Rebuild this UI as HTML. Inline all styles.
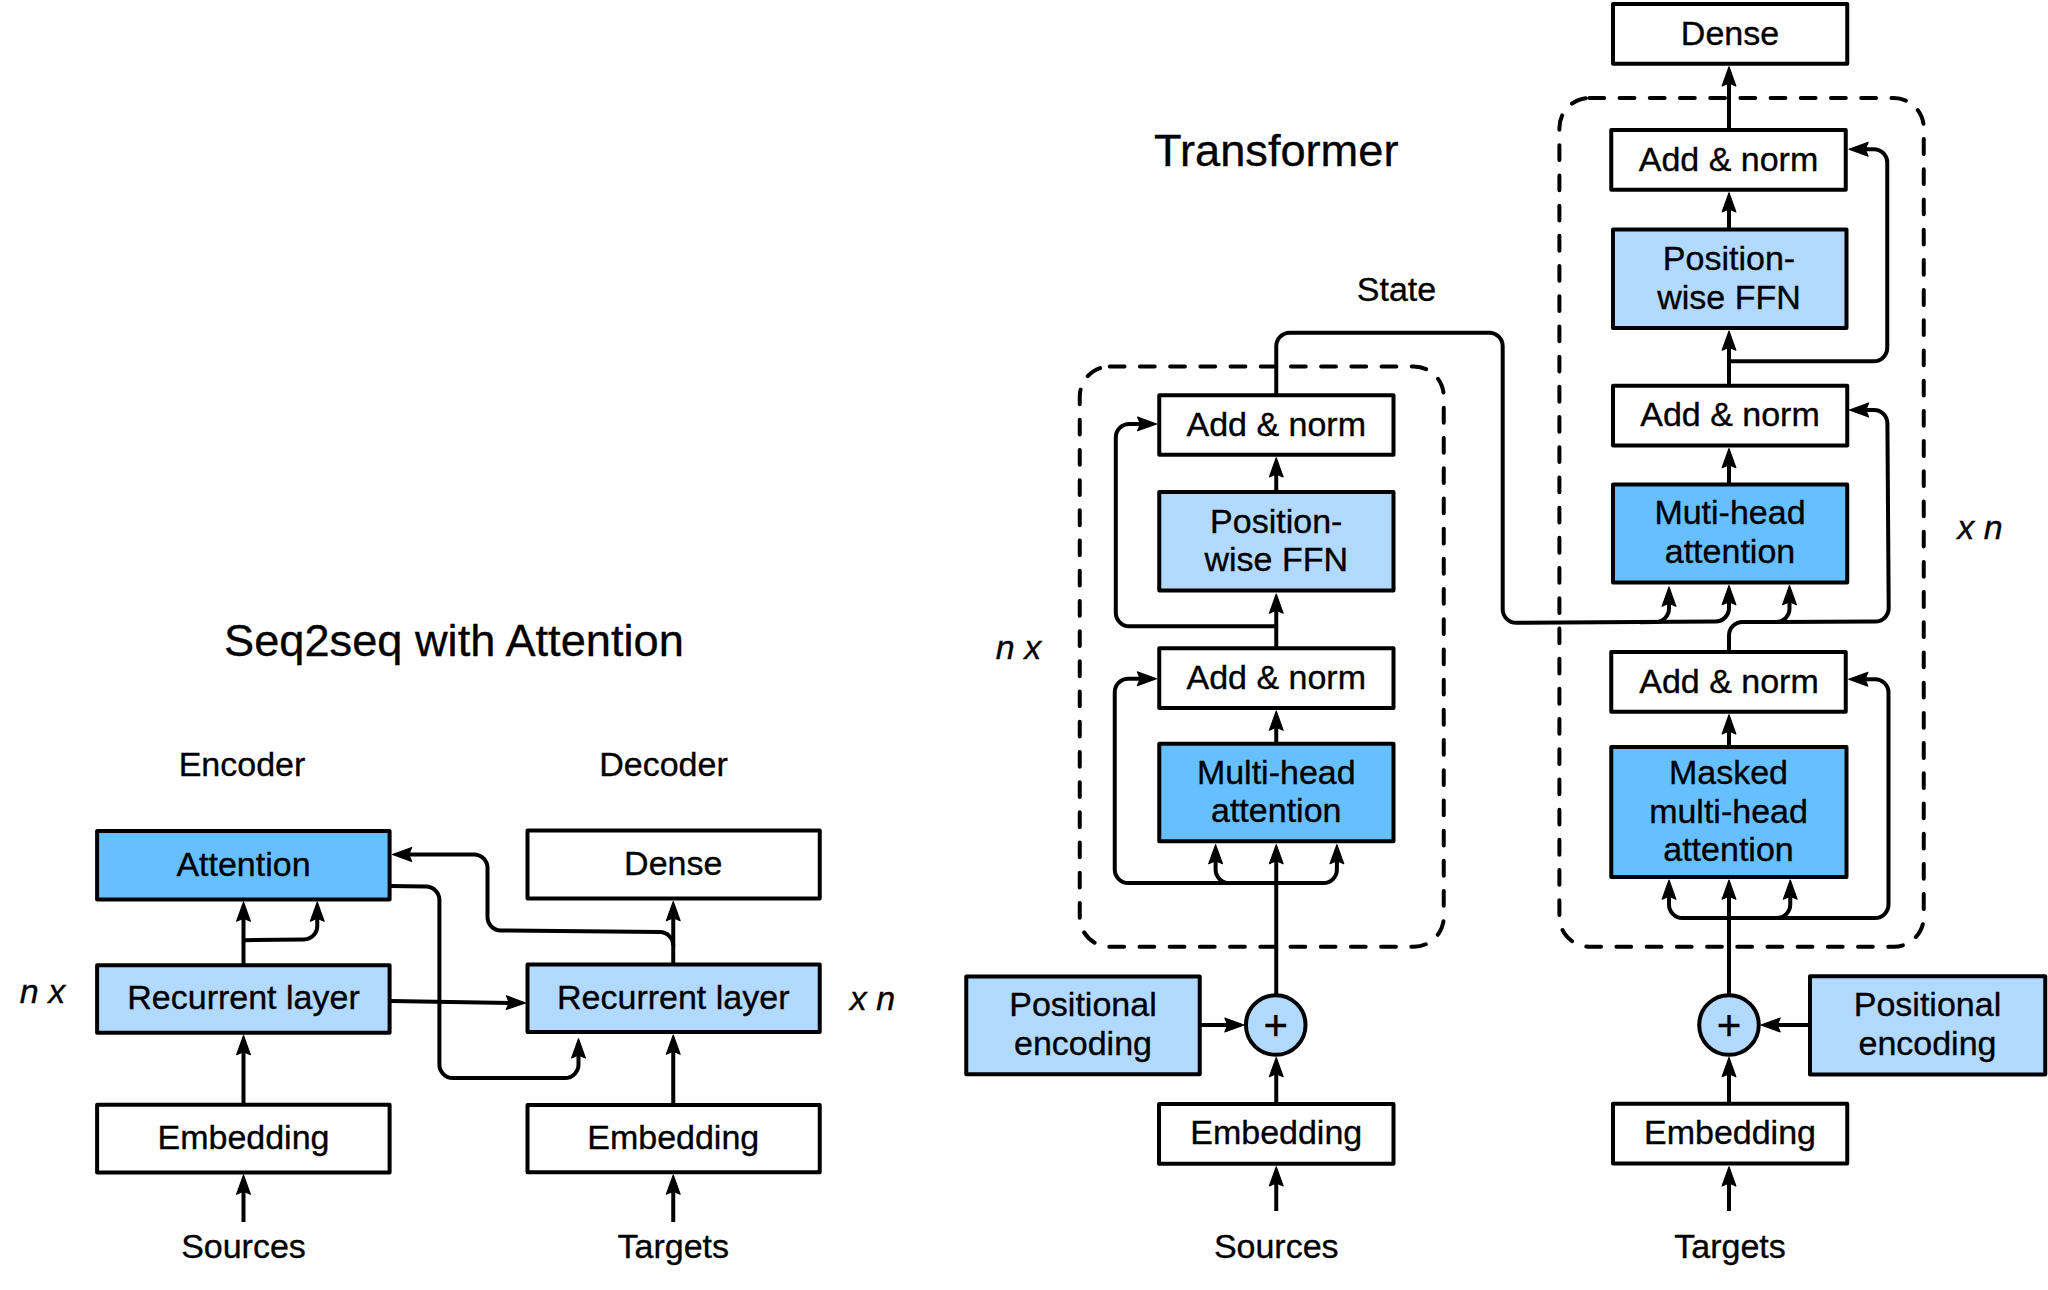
<!DOCTYPE html>
<html lang="en">
<head>
<meta charset="utf-8">
<title>Seq2seq with Attention vs Transformer</title>
<style>
html,body{margin:0;padding:0;background:#fff;}
body{width:2048px;height:1290px;overflow:hidden;}
svg{display:block;}
svg text{font-family:"Liberation Sans",sans-serif;fill:#000;stroke:#000;stroke-width:0.35px;}
</style>
</head>
<body>
<svg width="2048" height="1290" viewBox="0 0 2048 1290">
<rect x="0" y="0" width="2048" height="1290" fill="#fff"/>
<text x="453.90" y="656.00" font-size="45.2" text-anchor="middle">Seq2seq with Attention</text>
<text x="242.00" y="776.25" font-size="34" text-anchor="middle">Encoder</text>
<text x="663.50" y="776.25" font-size="34" text-anchor="middle">Decoder</text>
<path d="M243.5,1222 L243.5,1185" fill="none" stroke="#000" stroke-width="4.0" stroke-linecap="butt" stroke-linejoin="round"/>
<path transform="translate(243.50,1175.00) rotate(-90)" d="M0,0 L-19.2,-6.9 L-16.2,0 L-19.2,6.9 Z" fill="#000" stroke="#000" stroke-width="1.1" stroke-linejoin="round"/>
<path d="M243.5,1104 L243.5,1045.5" fill="none" stroke="#000" stroke-width="4.0" stroke-linecap="butt" stroke-linejoin="round"/>
<path transform="translate(243.50,1035.50) rotate(-90)" d="M0,0 L-19.2,-6.9 L-16.2,0 L-19.2,6.9 Z" fill="#000" stroke="#000" stroke-width="1.1" stroke-linejoin="round"/>
<path d="M243.5,965 L243.5,912" fill="none" stroke="#000" stroke-width="4.0" stroke-linecap="butt" stroke-linejoin="round"/>
<path transform="translate(243.50,902.00) rotate(-90)" d="M0,0 L-19.2,-6.9 L-16.2,0 L-19.2,6.9 Z" fill="#000" stroke="#000" stroke-width="1.1" stroke-linejoin="round"/>
<path d="M243.50,940.20 L303.91,939.46 A13.50,13.50 0 0 0 317.25,925.96 L317.25,912.00" fill="none" stroke="#000" stroke-width="4.0" stroke-linecap="butt" stroke-linejoin="round"/>
<path transform="translate(317.25,902.00) rotate(-90)" d="M0,0 L-19.2,-6.9 L-16.2,0 L-19.2,6.9 Z" fill="#000" stroke="#000" stroke-width="1.1" stroke-linejoin="round"/>
<path d="M673.25,1222 L673.25,1185" fill="none" stroke="#000" stroke-width="4.0" stroke-linecap="butt" stroke-linejoin="round"/>
<path transform="translate(673.25,1175.00) rotate(-90)" d="M0,0 L-19.2,-6.9 L-16.2,0 L-19.2,6.9 Z" fill="#000" stroke="#000" stroke-width="1.1" stroke-linejoin="round"/>
<path d="M673.25,1104 L673.25,1045" fill="none" stroke="#000" stroke-width="4.0" stroke-linecap="butt" stroke-linejoin="round"/>
<path transform="translate(673.25,1035.00) rotate(-90)" d="M0,0 L-19.2,-6.9 L-16.2,0 L-19.2,6.9 Z" fill="#000" stroke="#000" stroke-width="1.1" stroke-linejoin="round"/>
<path d="M673.25,964 L673.25,911.5" fill="none" stroke="#000" stroke-width="4.0" stroke-linecap="butt" stroke-linejoin="round"/>
<path transform="translate(673.25,901.50) rotate(-90)" d="M0,0 L-19.2,-6.9 L-16.2,0 L-19.2,6.9 Z" fill="#000" stroke="#000" stroke-width="1.1" stroke-linejoin="round"/>
<path d="M391,1001.1 L515,1003" fill="none" stroke="#000" stroke-width="4.0" stroke-linecap="butt" stroke-linejoin="round"/>
<path transform="translate(525.50,1003.00) rotate(1)" d="M0,0 L-19.2,-6.9 L-16.2,0 L-19.2,6.9 Z" fill="#000" stroke="#000" stroke-width="1.1" stroke-linejoin="round"/>
<path d="M390.00,886.10 L426.06,886.54 A13.50,13.50 0 0 1 439.40,900.04 L439.40,1064.50 A13.50,13.50 0 0 0 452.90,1078.00 L565.00,1078.00 A13.50,13.50 0 0 0 578.50,1064.50 L578.50,1049.00" fill="none" stroke="#000" stroke-width="4.0" stroke-linecap="butt" stroke-linejoin="round"/>
<path transform="translate(578.50,1038.75) rotate(-90)" d="M0,0 L-19.2,-6.9 L-16.2,0 L-19.2,6.9 Z" fill="#000" stroke="#000" stroke-width="1.1" stroke-linejoin="round"/>
<path d="M673.25,945.82 L673.25,945.57 A13.50,13.50 0 0 0 659.88,932.07 L500.87,930.53 A13.50,13.50 0 0 1 487.50,917.03 L487.50,868.00 A13.50,13.50 0 0 0 474.00,854.50 L402.00,854.50" fill="none" stroke="#000" stroke-width="4.0" stroke-linecap="butt" stroke-linejoin="round"/>
<path transform="translate(392.50,854.50) rotate(180)" d="M0,0 L-19.2,-6.9 L-16.2,0 L-19.2,6.9 Z" fill="#000" stroke="#000" stroke-width="1.1" stroke-linejoin="round"/>
<rect x="97.10" y="831.10" width="292.50" height="68.40" fill="#66BFFF" stroke="#000" stroke-width="4.0" stroke-linejoin="round"/>
<rect x="97.10" y="965.30" width="292.50" height="67.40" fill="#B2D9FF" stroke="#000" stroke-width="4.0" stroke-linejoin="round"/>
<rect x="97.10" y="1104.80" width="292.50" height="67.60" fill="#fff" stroke="#000" stroke-width="4.0" stroke-linejoin="round"/>
<rect x="527.50" y="830.50" width="292.25" height="68.00" fill="#fff" stroke="#000" stroke-width="4.0" stroke-linejoin="round"/>
<rect x="527.50" y="964.50" width="292.25" height="67.50" fill="#B2D9FF" stroke="#000" stroke-width="4.0" stroke-linejoin="round"/>
<rect x="527.50" y="1105.00" width="292.25" height="67.25" fill="#fff" stroke="#000" stroke-width="4.0" stroke-linejoin="round"/>
<text x="243.50" y="875.75" font-size="34" text-anchor="middle">Attention</text>
<text x="243.50" y="1009.25" font-size="34" text-anchor="middle">Recurrent layer</text>
<text x="243.50" y="1149.25" font-size="34" text-anchor="middle">Embedding</text>
<text x="243.50" y="1258.00" font-size="34" text-anchor="middle">Sources</text>
<text x="673.25" y="875.00" font-size="34" text-anchor="middle">Dense</text>
<text x="673.25" y="1008.75" font-size="34" text-anchor="middle">Recurrent layer</text>
<text x="673.25" y="1149.25" font-size="34" text-anchor="middle">Embedding</text>
<text x="673.25" y="1258.00" font-size="34" text-anchor="middle">Targets</text>
<text x="42.50" y="1003.00" font-size="34" text-anchor="middle" font-style="italic">n x</text>
<text x="872.50" y="1009.75" font-size="34" text-anchor="middle" font-style="italic">x n</text>
<text x="1276.25" y="166.25" font-size="45.2" text-anchor="middle">Transformer</text>
<text x="1396.50" y="301.25" font-size="34" text-anchor="middle">State</text>
<text x="1018.50" y="658.75" font-size="34" text-anchor="middle" font-style="italic">n x</text>
<text x="1980.00" y="538.75" font-size="34" text-anchor="middle" font-style="italic">x n</text>
<rect x="1079.75" y="366.5" width="364.0" height="580.25" rx="30" ry="30" fill="none" stroke="#000" stroke-width="4.0" stroke-dasharray="14.8 15.4" stroke-linecap="round"/>
<rect x="1559.4" y="98.1" width="364.3499999999999" height="848.65" rx="30" ry="30" fill="none" stroke="#000" stroke-width="4.0" stroke-dasharray="14.8 15.4" stroke-linecap="round"/>
<path d="M1276.25,1211 L1276.25,1176.75" fill="none" stroke="#000" stroke-width="4.0" stroke-linecap="butt" stroke-linejoin="round"/>
<path transform="translate(1276.25,1166.75) rotate(-90)" d="M0,0 L-19.2,-6.9 L-16.2,0 L-19.2,6.9 Z" fill="#000" stroke="#000" stroke-width="1.1" stroke-linejoin="round"/>
<path d="M1276.25,1103 L1276.25,1067.5" fill="none" stroke="#000" stroke-width="4.0" stroke-linecap="butt" stroke-linejoin="round"/>
<path transform="translate(1276.25,1057.50) rotate(-90)" d="M0,0 L-19.2,-6.9 L-16.2,0 L-19.2,6.9 Z" fill="#000" stroke="#000" stroke-width="1.1" stroke-linejoin="round"/>
<path d="M1276.25,995 L1276.25,856" fill="none" stroke="#000" stroke-width="4.0" stroke-linecap="butt" stroke-linejoin="round"/>
<path transform="translate(1276.25,844.60) rotate(-90)" d="M0,0 L-19.2,-6.9 L-16.2,0 L-19.2,6.9 Z" fill="#000" stroke="#000" stroke-width="1.1" stroke-linejoin="round"/>
<path d="M1276.25,883.10 L1229.10,883.10 A13.50,13.50 0 0 1 1215.60,869.60 L1215.60,856.00" fill="none" stroke="#000" stroke-width="4.0" stroke-linecap="butt" stroke-linejoin="round"/>
<path transform="translate(1215.60,844.60) rotate(-90)" d="M0,0 L-19.2,-6.9 L-16.2,0 L-19.2,6.9 Z" fill="#000" stroke="#000" stroke-width="1.1" stroke-linejoin="round"/>
<path d="M1276.25,883.10 L1323.40,883.10 A13.50,13.50 0 0 0 1336.90,869.60 L1336.90,856.00" fill="none" stroke="#000" stroke-width="4.0" stroke-linecap="butt" stroke-linejoin="round"/>
<path transform="translate(1336.90,844.60) rotate(-90)" d="M0,0 L-19.2,-6.9 L-16.2,0 L-19.2,6.9 Z" fill="#000" stroke="#000" stroke-width="1.1" stroke-linejoin="round"/>
<path d="M1240.00,883.10 L1128.25,883.10 A13.50,13.50 0 0 1 1114.75,869.60 L1114.75,692.25 A13.50,13.50 0 0 1 1128.25,678.75 L1146.00,678.75" fill="none" stroke="#000" stroke-width="4.0" stroke-linecap="butt" stroke-linejoin="round"/>
<path transform="translate(1156.50,678.75) rotate(0)" d="M0,0 L-19.2,-6.9 L-16.2,0 L-19.2,6.9 Z" fill="#000" stroke="#000" stroke-width="1.1" stroke-linejoin="round"/>
<path d="M1276.25,743 L1276.25,721" fill="none" stroke="#000" stroke-width="4.0" stroke-linecap="butt" stroke-linejoin="round"/>
<path transform="translate(1276.25,711.00) rotate(-90)" d="M0,0 L-19.2,-6.9 L-16.2,0 L-19.2,6.9 Z" fill="#000" stroke="#000" stroke-width="1.1" stroke-linejoin="round"/>
<path d="M1276.25,648 L1276.25,604" fill="none" stroke="#000" stroke-width="4.0" stroke-linecap="butt" stroke-linejoin="round"/>
<path transform="translate(1276.25,594.00) rotate(-90)" d="M0,0 L-19.2,-6.9 L-16.2,0 L-19.2,6.9 Z" fill="#000" stroke="#000" stroke-width="1.1" stroke-linejoin="round"/>
<path d="M1276.25,626.25 L1129.30,626.25 A13.50,13.50 0 0 1 1115.80,612.75 L1115.80,437.40 A13.50,13.50 0 0 1 1129.30,423.90 L1146.00,423.90" fill="none" stroke="#000" stroke-width="4.0" stroke-linecap="butt" stroke-linejoin="round"/>
<path transform="translate(1156.70,423.90) rotate(0)" d="M0,0 L-19.2,-6.9 L-16.2,0 L-19.2,6.9 Z" fill="#000" stroke="#000" stroke-width="1.1" stroke-linejoin="round"/>
<path d="M1276.25,492 L1276.25,467.75" fill="none" stroke="#000" stroke-width="4.0" stroke-linecap="butt" stroke-linejoin="round"/>
<path transform="translate(1276.25,457.75) rotate(-90)" d="M0,0 L-19.2,-6.9 L-16.2,0 L-19.2,6.9 Z" fill="#000" stroke="#000" stroke-width="1.1" stroke-linejoin="round"/>
<path d="M1276.25,395.00 L1276.25,346.20 A13.50,13.50 0 0 1 1289.75,332.70 L1489.20,332.70 A13.50,13.50 0 0 1 1502.70,346.20 L1502.70,609.22 A13.50,13.50 0 0 0 1516.28,622.72 L1715.58,621.48 A13.50,13.50 0 0 0 1729.00,607.98 L1729.00,597.00" fill="none" stroke="#000" stroke-width="4.0" stroke-linecap="butt" stroke-linejoin="round"/>
<path transform="translate(1729.00,585.50) rotate(-90)" d="M0,0 L-19.2,-6.9 L-16.2,0 L-19.2,6.9 Z" fill="#000" stroke="#000" stroke-width="1.1" stroke-linejoin="round"/>
<path d="M1640.00,622.20 L1655.59,622.09 A13.50,13.50 0 0 0 1669.00,608.59 L1669.00,598.00" fill="none" stroke="#000" stroke-width="4.0" stroke-linecap="butt" stroke-linejoin="round"/>
<path transform="translate(1669.00,587.00) rotate(-90)" d="M0,0 L-19.2,-6.9 L-16.2,0 L-19.2,6.9 Z" fill="#000" stroke="#000" stroke-width="1.1" stroke-linejoin="round"/>
<path d="M1200,1025 L1233,1025" fill="none" stroke="#000" stroke-width="4.0" stroke-linecap="butt" stroke-linejoin="round"/>
<path transform="translate(1244.00,1025.00) rotate(0)" d="M0,0 L-19.2,-6.9 L-16.2,0 L-19.2,6.9 Z" fill="#000" stroke="#000" stroke-width="1.1" stroke-linejoin="round"/>
<path d="M1729.0,1211 L1729.0,1176.75" fill="none" stroke="#000" stroke-width="4.0" stroke-linecap="butt" stroke-linejoin="round"/>
<path transform="translate(1729.00,1166.75) rotate(-90)" d="M0,0 L-19.2,-6.9 L-16.2,0 L-19.2,6.9 Z" fill="#000" stroke="#000" stroke-width="1.1" stroke-linejoin="round"/>
<path d="M1729.0,1103 L1729.0,1067.5" fill="none" stroke="#000" stroke-width="4.0" stroke-linecap="butt" stroke-linejoin="round"/>
<path transform="translate(1729.00,1057.50) rotate(-90)" d="M0,0 L-19.2,-6.9 L-16.2,0 L-19.2,6.9 Z" fill="#000" stroke="#000" stroke-width="1.1" stroke-linejoin="round"/>
<path d="M1729.0,995 L1729.0,891" fill="none" stroke="#000" stroke-width="4.0" stroke-linecap="butt" stroke-linejoin="round"/>
<path transform="translate(1729.00,880.00) rotate(-90)" d="M0,0 L-19.2,-6.9 L-16.2,0 L-19.2,6.9 Z" fill="#000" stroke="#000" stroke-width="1.1" stroke-linejoin="round"/>
<path d="M1729.00,918.00 L1682.50,918.00 A13.50,13.50 0 0 1 1669.00,904.50 L1669.00,891.00" fill="none" stroke="#000" stroke-width="4.0" stroke-linecap="butt" stroke-linejoin="round"/>
<path transform="translate(1669.00,880.00) rotate(-90)" d="M0,0 L-19.2,-6.9 L-16.2,0 L-19.2,6.9 Z" fill="#000" stroke="#000" stroke-width="1.1" stroke-linejoin="round"/>
<path d="M1729.00,918.00 L1776.75,918.00 A13.50,13.50 0 0 0 1790.25,904.50 L1790.25,891.00" fill="none" stroke="#000" stroke-width="4.0" stroke-linecap="butt" stroke-linejoin="round"/>
<path transform="translate(1790.25,880.00) rotate(-90)" d="M0,0 L-19.2,-6.9 L-16.2,0 L-19.2,6.9 Z" fill="#000" stroke="#000" stroke-width="1.1" stroke-linejoin="round"/>
<path d="M1770.00,918.00 L1875.00,918.00 A13.50,13.50 0 0 0 1888.50,904.50 L1888.50,692.75 A13.50,13.50 0 0 0 1875.00,679.25 L1859.00,679.25" fill="none" stroke="#000" stroke-width="4.0" stroke-linecap="butt" stroke-linejoin="round"/>
<path transform="translate(1848.75,679.25) rotate(180)" d="M0,0 L-19.2,-6.9 L-16.2,0 L-19.2,6.9 Z" fill="#000" stroke="#000" stroke-width="1.1" stroke-linejoin="round"/>
<path d="M1729.0,747 L1729.0,724.75" fill="none" stroke="#000" stroke-width="4.0" stroke-linecap="butt" stroke-linejoin="round"/>
<path transform="translate(1729.00,714.75) rotate(-90)" d="M0,0 L-19.2,-6.9 L-16.2,0 L-19.2,6.9 Z" fill="#000" stroke="#000" stroke-width="1.1" stroke-linejoin="round"/>
<path d="M1729.00,652.00 L1729.00,635.50 A13.50,13.50 0 0 1 1742.50,622.00 L1776.00,622.00 A13.50,13.50 0 0 0 1789.50,608.50 L1789.50,597.00" fill="none" stroke="#000" stroke-width="4.0" stroke-linecap="butt" stroke-linejoin="round"/>
<path transform="translate(1789.50,585.50) rotate(-90)" d="M0,0 L-19.2,-6.9 L-16.2,0 L-19.2,6.9 Z" fill="#000" stroke="#000" stroke-width="1.1" stroke-linejoin="round"/>
<path d="M1760.00,622.00 L1875.26,621.55 A13.50,13.50 0 0 0 1888.70,607.96 L1887.40,423.40 A13.50,13.50 0 0 0 1873.90,410.00 L1859.50,410.00" fill="none" stroke="#000" stroke-width="4.0" stroke-linecap="butt" stroke-linejoin="round"/>
<path transform="translate(1849.50,410.00) rotate(180)" d="M0,0 L-19.2,-6.9 L-16.2,0 L-19.2,6.9 Z" fill="#000" stroke="#000" stroke-width="1.1" stroke-linejoin="round"/>
<path d="M1729.0,484 L1729.0,458.5" fill="none" stroke="#000" stroke-width="4.0" stroke-linecap="butt" stroke-linejoin="round"/>
<path transform="translate(1729.00,448.50) rotate(-90)" d="M0,0 L-19.2,-6.9 L-16.2,0 L-19.2,6.9 Z" fill="#000" stroke="#000" stroke-width="1.1" stroke-linejoin="round"/>
<path d="M1729.0,385.5 L1729.0,342" fill="none" stroke="#000" stroke-width="4.0" stroke-linecap="butt" stroke-linejoin="round"/>
<path transform="translate(1729.00,331.00) rotate(-90)" d="M0,0 L-19.2,-6.9 L-16.2,0 L-19.2,6.9 Z" fill="#000" stroke="#000" stroke-width="1.1" stroke-linejoin="round"/>
<path d="M1729.00,361.25 L1873.75,361.25 A13.50,13.50 0 0 0 1887.25,347.75 L1887.25,162.75 A13.50,13.50 0 0 0 1873.75,149.25 L1859.00,149.25" fill="none" stroke="#000" stroke-width="4.0" stroke-linecap="butt" stroke-linejoin="round"/>
<path transform="translate(1849.00,149.25) rotate(180)" d="M0,0 L-19.2,-6.9 L-16.2,0 L-19.2,6.9 Z" fill="#000" stroke="#000" stroke-width="1.1" stroke-linejoin="round"/>
<path d="M1729.0,229 L1729.0,202.75" fill="none" stroke="#000" stroke-width="4.0" stroke-linecap="butt" stroke-linejoin="round"/>
<path transform="translate(1729.00,192.75) rotate(-90)" d="M0,0 L-19.2,-6.9 L-16.2,0 L-19.2,6.9 Z" fill="#000" stroke="#000" stroke-width="1.1" stroke-linejoin="round"/>
<path d="M1729.0,130 L1729.0,76.75" fill="none" stroke="#000" stroke-width="4.0" stroke-linecap="butt" stroke-linejoin="round"/>
<path transform="translate(1729.00,66.75) rotate(-90)" d="M0,0 L-19.2,-6.9 L-16.2,0 L-19.2,6.9 Z" fill="#000" stroke="#000" stroke-width="1.1" stroke-linejoin="round"/>
<path d="M1810,1025 L1772,1025" fill="none" stroke="#000" stroke-width="4.0" stroke-linecap="butt" stroke-linejoin="round"/>
<path transform="translate(1761.00,1025.00) rotate(180)" d="M0,0 L-19.2,-6.9 L-16.2,0 L-19.2,6.9 Z" fill="#000" stroke="#000" stroke-width="1.1" stroke-linejoin="round"/>
<rect x="1159.25" y="395.25" width="234.25" height="59.50" fill="#fff" stroke="#000" stroke-width="4.0" stroke-linejoin="round"/>
<rect x="1159.25" y="492.00" width="234.25" height="98.50" fill="#B2D9FF" stroke="#000" stroke-width="4.0" stroke-linejoin="round"/>
<rect x="1159.25" y="648.25" width="234.25" height="59.75" fill="#fff" stroke="#000" stroke-width="4.0" stroke-linejoin="round"/>
<rect x="1159.25" y="743.75" width="234.25" height="97.50" fill="#66BFFF" stroke="#000" stroke-width="4.0" stroke-linejoin="round"/>
<rect x="1159.00" y="1104.00" width="234.50" height="59.75" fill="#fff" stroke="#000" stroke-width="4.0" stroke-linejoin="round"/>
<rect x="966.25" y="976.50" width="233.50" height="97.75" fill="#B2D9FF" stroke="#000" stroke-width="4.0" stroke-linejoin="round"/>
<circle cx="1275.75" cy="1025" r="29.8" fill="#B2D9FF" stroke="#000" stroke-width="4.0"/>
<text x="1276.25" y="435.50" font-size="34" text-anchor="middle">Add &amp; norm</text>
<text x="1276.25" y="532.50" font-size="34" text-anchor="middle">Position-</text>
<text x="1276.25" y="570.75" font-size="34" text-anchor="middle">wise FFN</text>
<text x="1276.25" y="688.75" font-size="34" text-anchor="middle">Add &amp; norm</text>
<text x="1276.25" y="783.75" font-size="34" text-anchor="middle">Multi-head</text>
<text x="1276.25" y="822.00" font-size="34" text-anchor="middle">attention</text>
<text x="1276.25" y="1144.25" font-size="34" text-anchor="middle">Embedding</text>
<text x="1276.25" y="1257.50" font-size="34" text-anchor="middle">Sources</text>
<text x="1083.00" y="1016.25" font-size="34" text-anchor="middle">Positional</text>
<text x="1083.00" y="1054.50" font-size="34" text-anchor="middle">encoding</text>
<text x="1275.75" y="1040.40" font-size="42" text-anchor="middle">+</text>
<rect x="1613.00" y="4.00" width="234.25" height="59.75" fill="#fff" stroke="#000" stroke-width="4.0" stroke-linejoin="round"/>
<rect x="1611.25" y="130.00" width="234.50" height="59.75" fill="#fff" stroke="#000" stroke-width="4.0" stroke-linejoin="round"/>
<rect x="1613.00" y="229.50" width="233.50" height="98.50" fill="#B2D9FF" stroke="#000" stroke-width="4.0" stroke-linejoin="round"/>
<rect x="1613.00" y="385.75" width="234.25" height="59.75" fill="#fff" stroke="#000" stroke-width="4.0" stroke-linejoin="round"/>
<rect x="1613.00" y="484.50" width="234.25" height="98.00" fill="#66BFFF" stroke="#000" stroke-width="4.0" stroke-linejoin="round"/>
<rect x="1611.25" y="652.00" width="234.50" height="59.75" fill="#fff" stroke="#000" stroke-width="4.0" stroke-linejoin="round"/>
<rect x="1611.25" y="747.00" width="235.25" height="130.00" fill="#66BFFF" stroke="#000" stroke-width="4.0" stroke-linejoin="round"/>
<rect x="1613.00" y="1103.75" width="234.25" height="59.75" fill="#fff" stroke="#000" stroke-width="4.0" stroke-linejoin="round"/>
<rect x="1810.00" y="976.25" width="235.25" height="98.25" fill="#B2D9FF" stroke="#000" stroke-width="4.0" stroke-linejoin="round"/>
<circle cx="1729" cy="1025" r="29.8" fill="#B2D9FF" stroke="#000" stroke-width="4.0"/>
<text x="1730.00" y="45.00" font-size="34" text-anchor="middle">Dense</text>
<text x="1728.50" y="170.75" font-size="34" text-anchor="middle">Add &amp; norm</text>
<text x="1729.00" y="270.00" font-size="34" text-anchor="middle">Position-</text>
<text x="1729.00" y="308.75" font-size="34" text-anchor="middle">wise FFN</text>
<text x="1730.00" y="425.75" font-size="34" text-anchor="middle">Add &amp; norm</text>
<text x="1730.00" y="524.25" font-size="34" text-anchor="middle">Muti-head</text>
<text x="1730.00" y="563.00" font-size="34" text-anchor="middle">attention</text>
<text x="1729.00" y="692.50" font-size="34" text-anchor="middle">Add &amp; norm</text>
<text x="1728.50" y="783.75" font-size="34" text-anchor="middle">Masked</text>
<text x="1728.50" y="822.50" font-size="34" text-anchor="middle">multi-head</text>
<text x="1728.50" y="861.25" font-size="34" text-anchor="middle">attention</text>
<text x="1730.00" y="1144.25" font-size="34" text-anchor="middle">Embedding</text>
<text x="1730.00" y="1257.50" font-size="34" text-anchor="middle">Targets</text>
<text x="1927.50" y="1016.25" font-size="34" text-anchor="middle">Positional</text>
<text x="1927.50" y="1054.50" font-size="34" text-anchor="middle">encoding</text>
<text x="1729.00" y="1040.40" font-size="42" text-anchor="middle">+</text>
</svg>
</body>
</html>
